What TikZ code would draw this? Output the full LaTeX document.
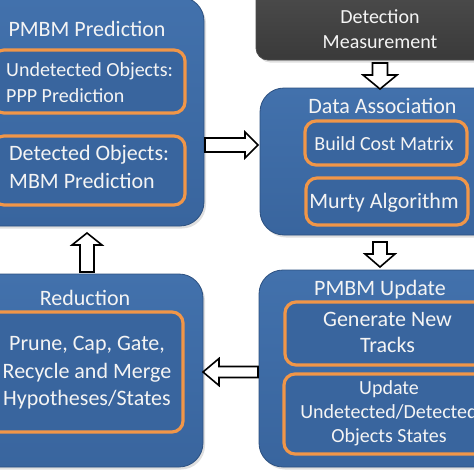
\documentclass[tikz,border=0pt]{standalone}
\usepackage{fontspec}
\setmainfont{Carlito}
\usetikzlibrary{calc,shadows}
\definecolor{boxblue}{RGB}{57,101,158}
\definecolor{boxblueT}{RGB}{66,113,172}
\definecolor{boxedge}{RGB}{44,80,128}
\definecolor{boxorange}{RGB}{241,150,72}
\definecolor{boxgray}{RGB}{58,58,58}
\definecolor{boxgrayT}{RGB}{78,78,78}
\definecolor{txtc}{RGB}{244,244,244}
\tikzset{
  outerbox/.style={draw=boxedge, line width=0.8pt, top color=boxblueT, bottom color=boxblue,
    rounded corners=24pt, inner sep=0pt, outer sep=0pt,
    drop shadow={shadow xshift=2pt, shadow yshift=-2.5pt, opacity=0.25}},
  graybox/.style={draw=black!70, line width=0.8pt, top color=boxgrayT, bottom color=boxgray,
    rounded corners=12pt, inner sep=0pt, outer sep=0pt,
    drop shadow={shadow xshift=2pt, shadow yshift=-2.5pt, opacity=0.25}},
  innerbox/.style={draw=boxorange, line width=3.2pt, fill=boxblue,
    rounded corners=11pt, inner sep=0pt, outer sep=0pt},
  lbl/.style={text=txtc, inner sep=0pt, align=center},
  blk/.style={draw=black, fill=white, line width=1.6pt, line join=miter},
}
\begin{document}
\begin{tikzpicture}[x=1pt,y=-1pt]
\useasboundingbox (0,0) rectangle (474,474);
\clip (0,0) rectangle (474,474);
\fill[white] (0,0) rectangle (474,474);

% ---- boxes ----
\node[outerbox, minimum width=237pt, minimum height=229pt] (pred) at (85.5,111.5) {};
\node[innerbox, minimum width=192pt, minimum height=63pt] (predA) at (89,81.5) {};
\node[innerbox, minimum width=192pt, minimum height=69pt] (predB) at (89,170.5) {};

\node[graybox, minimum width=248pt, minimum height=80pt] (det) at (380,20) {};

\node[outerbox, minimum width=246pt, minimum height=147pt] (da) at (383,161.5) {};
\node[innerbox, minimum width=162pt, minimum height=44pt] (bcm) at (386,143) {};
\node[innerbox, minimum width=162pt, minimum height=47pt] (murty) at (387,201.5) {};

\node[outerbox, minimum width=236pt, minimum height=193pt] (red) at (85,370.5) {};
\node[innerbox, minimum width=196pt, minimum height=120pt] (redin) at (85,372) {};

\node[outerbox, minimum width=242pt, minimum height=197pt] (upd) at (380,368.5) {};
\node[innerbox, minimum width=205pt, minimum height=63pt] (gen) at (387.5,333.5) {};
\node[innerbox, minimum width=210pt, minimum height=80pt] (updin) at (389,414) {};

% ---- texts ----
\node[lbl, font=\fontsize{22}{26}\selectfont] (tpred) at (87,29) {PMBM Prediction};
\node[lbl, anchor=west, align=left, font=\fontsize{20}{26}\selectfont] (tpredA) at (6,83) {Undetected Objects:\\PPP Prediction};
\node[lbl, anchor=west, align=left, font=\fontsize{22}{28}\selectfont] (tpredB) at (9,167) {Detected Objects:\\MBM Prediction};

\node[lbl, font=\fontsize{20}{25}\selectfont] (tdet) at (380,29.5) {Detection\\Measurement};

\node[lbl, font=\fontsize{22}{26}\selectfont] (tda) at (382.5,106) {Data Association};
\node[lbl, font=\fontsize{20}{24}\selectfont] (tbcm) at (384,144) {Build Cost Matrix};
\node[lbl, font=\fontsize{22}{26}\selectfont] (tmurty) at (384,203) {Murty Algorithm};

\node[lbl, font=\fontsize{22}{26}\selectfont] (tred) at (85,298) {Reduction};
\node[lbl, font=\fontsize{22}{27.5}\selectfont] (tredin) at (87,373) {Prune, Cap, Gate,\\Recycle and Merge\\Hypotheses/States};

\node[lbl, font=\fontsize{22}{26}\selectfont] (tupd) at (380,290) {PMBM Update};
\node[lbl, font=\fontsize{22}{26}\selectfont] (tgen) at (387.5,332) {Generate New\\Tracks};
\node[lbl, font=\fontsize{20}{24}\selectfont] (tupdin) at (389,413) {Update\\Undetected/Detected\\Objects States};

% ---- block arrows ----
\coordinate (a1) at (205,145);
\draw[blk] ($(a1)+(0,-7)$) -- ++(40,0) -- ++(0,-6) -- ++(13,13) -- ++(-13,13) -- ++(0,-6) -- ++(-40,0) -- cycle;
\coordinate (a2) at (380,63);
\draw[blk] ($(a2)+(-7.5,0)$) -- ++(0,12) -- ++(-9.5,0) -- ++(17,14) -- ++(17,-14) -- ++(-9.5,0) -- ++(0,-12) -- cycle;
\coordinate (a3) at (380,242);
\draw[blk] ($(a3)+(-7,0)$) -- ++(0,12) -- ++(-8,0) -- ++(15,13) -- ++(15,-13) -- ++(-8,0) -- ++(0,-12) -- cycle;
\coordinate (a4) at (87,272);
\draw[blk] ($(a4)+(-7,0)$) -- ++(0,-27) -- ++(-8,0) -- ++(15,-12) -- ++(15,12) -- ++(-8,0) -- ++(0,27) -- cycle;
\coordinate (a5) at (258,372);
\draw[blk] ($(a5)+(0,-5.5)$) -- ++(-39,0) -- ++(0,-8) -- ++(-16,13.5) -- ++(16,13.5) -- ++(0,-8) -- ++(39,0) -- cycle;
\end{tikzpicture}
\end{document}
